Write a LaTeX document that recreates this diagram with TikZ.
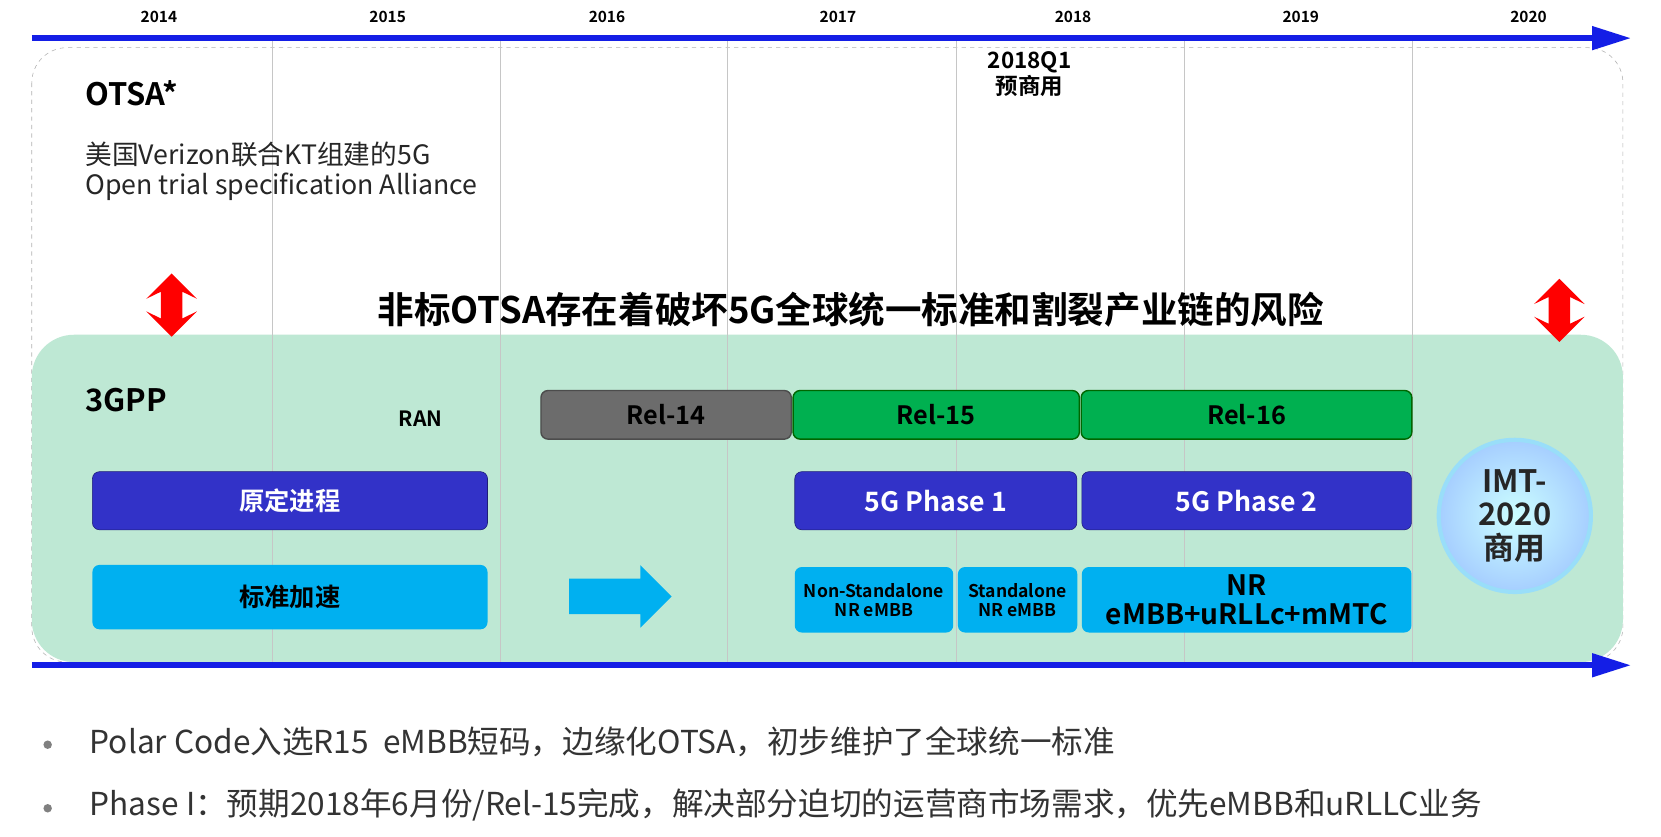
\documentclass[tikz,border=0pt]{standalone}
\usepackage{fontspec}
\setmainfont{Noto Sans CJK SC}[BoldFont={Noto Sans CJK SC Bold}]
\usetikzlibrary{arrows.meta,shapes.arrows}
\definecolor{axisblue}{RGB}{20,30,230}
\definecolor{bggreen}{RGB}{190,232,212}
\definecolor{relgreen}{RGB}{0,176,80}
\definecolor{phblue}{RGB}{50,50,200}
\definecolor{cyanb}{RGB}{0,176,240}
\begin{document}
\begin{tikzpicture}[x=0.0265cm,y=-0.0265cm,
  yr/.style={font=\bfseries\fontsize{11}{13}\selectfont},
  axis/.style={axisblue,line width=4.5pt,-{Triangle[length=28pt,width=16pt]}},
  box/.style={rounded corners=5pt,anchor=north west,inner sep=0pt,align=center},
  rel/.style={box,fill=relgreen,draw=green!40!black,line width=1pt,font=\bfseries\fontsize{18}{20}\selectfont},
  ph/.style={box,fill=phblue,draw=phblue!60!black,text=white,font=\bfseries\fontsize{19}{20}\selectfont},
  cy/.style={box,fill=cyanb,font=\bfseries\fontsize{12.5}{13.5}\selectfont},
  red2/.style={double arrow,fill=red,rotate=90,minimum height=45pt,minimum width=36pt,double arrow head extend=7pt,double arrow head indent=5pt,inner sep=5pt},
  bul/.style={anchor=west,font=\fontsize{22.5}{26}\selectfont,text=black!80}]
\useasboundingbox (0,0) rectangle (1568,790);
\fill[white] (0,0) rectangle (1568,790);
\draw[gray!60,dashed,rounded corners=25pt] (30,45) rectangle (1532,625);
\fill[bggreen,rounded corners=30pt] (30,316) rectangle (1532,625);
\foreach \x in {257,472,687,903,1118,1333} \draw[gray!45,line width=0.6pt] (\x,36) -- (\x,628);
\coordinate (t0) at (30,36); \coordinate (t1) at (1540,36);
\coordinate (b0) at (30,628); \coordinate (b1) at (1540,628);
\draw[axis] (t0) -- (t1);
\draw[axis] (b0) -- (b1);
\foreach \x/\y in {150/2014,366/2015,573/2016,791/2017,1013/2018,1228/2019,1443/2020} \node[yr] (y\y) at (\x,16) {\y};
\node[anchor=west,font=\bfseries\fontsize{22}{24}\selectfont] (otsa) at (76,88) {OTSA*};
\node[anchor=west,font=\fontsize{19}{22}\selectfont,text=black!85] (o1) at (76,146) {美国Verizon联合KT组建的5G};
\node[anchor=west,font=\fontsize{19}{22}\selectfont,text=black!85] (o2) at (76,176) {Open trial specification Alliance};
\node[font=\bfseries\fontsize{16}{19}\selectfont,align=center] (q1) at (972,70) {2018Q1\\预商用};
\node[font=\bfseries\fontsize{26}{28}\selectfont] (head) at (803,292) {非标OTSA存在着破坏5G全球统一标准和割裂产业链的风险};
\node[red2] (ra) at (162,288) {};
\node[red2] (rb) at (1472,293) {};
\node[anchor=west,font=\bfseries\fontsize{22}{24}\selectfont] (gpp) at (76,378) {3GPP};
\node[font=\bfseries\fontsize{15}{17}\selectfont] (ran) at (397,395) {RAN};
\node[rel,fill=gray!85!black,draw=gray!60!black,minimum width=237*0.752pt,minimum height=46*0.752pt] (r14) at (510,368) {Rel-14};
\node[rel,minimum width=271*0.752pt,minimum height=46*0.752pt] (r15) at (748,368) {Rel-15};
\node[rel,minimum width=313*0.752pt,minimum height=46*0.752pt] (r16) at (1020,368) {Rel-16};
\node[ph,minimum width=374*0.752pt,minimum height=55*0.752pt,font=\bfseries\fontsize{18}{20}\selectfont] (yd) at (87,445) {原定进程};
\node[ph,minimum width=267*0.752pt,minimum height=55*0.752pt] (p1) at (750,445) {5G Phase 1};
\node[ph,minimum width=312*0.752pt,minimum height=55*0.752pt] (p2) at (1021,445) {5G Phase 2};
\node[cy,minimum width=374*0.752pt,minimum height=61*0.752pt,font=\bfseries\fontsize{18}{20}\selectfont] (bz) at (87,533) {标准加速};
\node[single arrow,fill=cyanb,minimum height=97*0.752pt,minimum width=59*0.752pt,single arrow head extend=7pt,inner sep=9pt,anchor=west] (ca) at (537,563) {};
\node[cy,minimum width=150*0.752pt,minimum height=62*0.752pt] (ns) at (750,535) {Non-Standalone\\NR eMBB};
\node[cy,minimum width=113*0.752pt,minimum height=62*0.752pt] (sa) at (904,535) {Standalone\\NR eMBB};
\node[cy,minimum width=312*0.752pt,minimum height=62*0.752pt,font=\bfseries\fontsize{20}{20}\selectfont] (nr) at (1021,535) {NR\\eMBB+uRLLc+mMTC};
\node[circle,minimum size=144*0.752pt,inner sep=0pt,draw=cyan!40,line width=3pt,inner color=white!80!cyan,outer color=cyan!45!blue!35,align=center,font=\bfseries\fontsize{22}{24}\selectfont,text=black!85] (imt) at (1430,487) {IMT-\\2020\\商用};
\fill[gray] (45,703) circle (4);
\fill[gray] (45,763) circle (4);
\node[bul] (b1t) at (80,700) {Polar Code入选R15\ \ eMBB短码，边缘化OTSA，初步维护了全球统一标准};
\node[bul] (b2t) at (80,760) {Phase I：预期2018年6月份/Rel-15完成，解决部分迫切的运营商市场需求，优先eMBB和uRLLC业务};
\end{tikzpicture}
\end{document}
